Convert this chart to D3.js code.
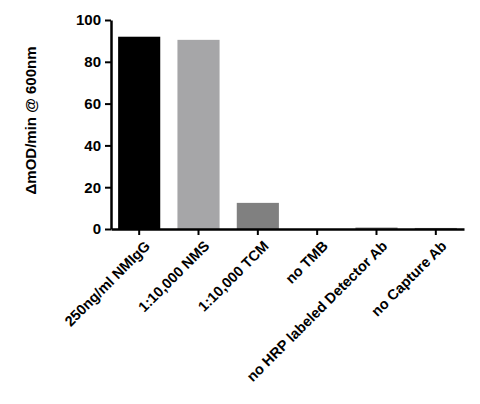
<!DOCTYPE html>
<html>
<head>
<meta charset="utf-8">
<script src="https://cdn.jsdelivr.net/npm/d3@7"></script>
<style>
  body { margin: 0; background: #fff; }
  text { font-family: "Liberation Sans", Arial, sans-serif; font-weight: bold; }
</style>
</head>
<body>
<div class="canvas"></div>
<script>
const categories = [
  "250ng/ml NMIgG",
  "1:10,000 NMS",
  "1:10,000 TCM",
  "no TMB",
  "no HRP labeled Detector Ab",
  "no Capture Ab",
];
const values = [92, 90.5, 12.5, 0, 0.7, 0.5];
const colors = ["#000000", "#a6a6a8", "#808080", "#808080", "#808080", "#808080"];
const yTicks = [0, 20, 40, 60, 80, 100];

const margin = { top: 20, left: 111, right: 16 };
const plotW = 464 - margin.left;
const plotH = 209;

const svg = d3.select(".canvas").append("svg").attr("width", 480).attr("height", 404);
const chart = svg.append("g").attr("transform", `translate(${margin.left}, ${margin.top})`);

const x = d3.scaleBand().domain(categories).range([0, plotW]).paddingInner(0.29).paddingOuter(0.12);
const y = d3.scaleLinear().domain([0, 100]).range([plotH, 0]);

chart.selectAll("rect")
  .data(values)
  .enter()
  .append("rect")
  .attr("x", (d, i) => x(categories[i]))
  .attr("y", (d) => y(d))
  .attr("width", x.bandwidth())
  .attr("height", (d) => plotH - y(d))
  .style("fill", (d, i) => colors[i]);

const yAxis = chart.append("g").call(d3.axisLeft(y).tickValues(yTicks).tickSize(6).tickSizeOuter(0));
const xAxis = chart.append("g").attr("transform", `translate(0, ${plotH})`)
  .call(d3.axisBottom(x).tickSize(6).tickSizeOuter(0));

[yAxis, xAxis].forEach((a) => {
  a.select(".domain").attr("stroke", "#000").attr("stroke-width", 2.5);
  a.selectAll(".tick line").attr("stroke", "#000").attr("stroke-width", 2);
  a.selectAll("text").attr("fill", "#000").style("font-size", "15px");
});
yAxis.selectAll("text").attr("x", -10);

xAxis.selectAll("text")
  .style("font-size", "14.5px")
  .attr("text-anchor", "end")
  .attr("transform", "rotate(-45)")
  .attr("dx", "-0.3em")
  .attr("dy", "0.9em")
  .attr("x", 0)
  .attr("y", 8);

svg.append("text")
  .attr("transform", `translate(36, ${margin.top + plotH / 2 - 4}) rotate(-90)`)
  .attr("text-anchor", "middle")
  .style("font-size", "15px")
  .text("\u0394mOD/min @ 600nm");
</script>
</body>
</html>
